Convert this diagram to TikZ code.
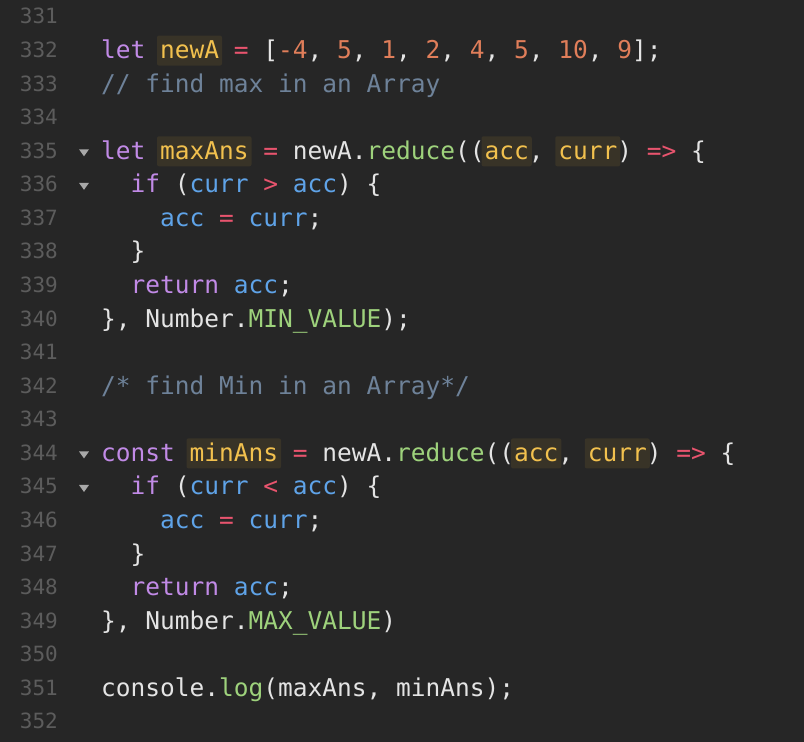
\documentclass[tikz,border=0pt]{standalone}
\usepackage{fontspec}
\setmonofont{DejaVu Sans Mono}
\definecolor{bg}{HTML}{262626}
\definecolor{kw}{HTML}{C18AE6}
\definecolor{yl}{HTML}{F2C14E}
\definecolor{rd}{HTML}{E8546E}
\definecolor{nm}{HTML}{E07E5A}
\definecolor{gr}{HTML}{9ED27C}
\definecolor{bl}{HTML}{5FA3E8}
\definecolor{tx}{HTML}{E4E4E4}
\definecolor{cm}{HTML}{6E8299}
\definecolor{ln}{HTML}{5C5C5C}
\definecolor{hlb}{HTML}{383327}
\definecolor{fold}{HTML}{A8A8A8}
\newcommand\K[1]{\textcolor{kw}{#1}}
\newcommand\Y[1]{\textcolor{yl}{#1}}
\newcommand\R[1]{\textcolor{rd}{#1}}
\newcommand\N[1]{\textcolor{nm}{#1}}
\newcommand\G[1]{\textcolor{gr}{#1}}
\newcommand\B[1]{\textcolor{bl}{#1}}
\newcommand\Cm[1]{\textcolor{cm}{#1}}
\begin{document}
\begin{tikzpicture}[x=1pt,y=1pt,
  code/.style={anchor=base west,inner sep=0pt,text=tx,font=\ttfamily\fontsize{24.5}{24.5}\selectfont},
  lnum/.style={anchor=base east,inner sep=0pt,text=ln,font=\ttfamily\fontsize{21}{21}\selectfont},
  hlbox/.style={fill=hlb,draw=none,rounded corners=2pt},
  foldmark/.style={fill=fold,draw=none}]
\fill[bg] (0,0) rectangle (804,742);
\useasboundingbox (0,0) rectangle (804,742);
\def\cw{14.75}
\newcommand\ly[1]{742-17-33.57*(#1-331)}
% highlights: \hlt{line}{startcol}{len}
\newcommand\hlt[3]{\fill[hlb,rounded corners=2pt] ({101+\cw*#2-3},{\ly{#1}-15}) rectangle ({101+\cw*(#2+#3)+3},{\ly{#1}+15});}
\hlt{332}{4}{4}
\hlt{335}{4}{6}\hlt{335}{26}{3}\hlt{335}{31}{4}
\hlt{344}{6}{6}\hlt{344}{28}{3}\hlt{344}{33}{4}
% line numbers
\foreach \n in {331,...,352} {\node[lnum] (l\n) at (58,{\ly{\n}-7}) {\n};}
% fold marks
\foreach \n in {335,336,344,345} {\fill[fold] (79,{\ly{\n}+2}) -- (89,{\ly{\n}+2}) -- (84,{\ly{\n}-5}) -- cycle;}
\newcommand\cl[3]{\node[code] (c#1) at ({101+\cw*#2},{\ly{#1}-8}) {#3};}
\cl{332}{0}{\K{let} \Y{newA} \R{=} [\N{-4}, \N{5}, \N{1}, \N{2}, \N{4}, \N{5}, \N{10}, \N{9}];}
\cl{333}{0}{\Cm{// find max in an Array}}
\cl{335}{0}{\K{let} \Y{maxAns} \R{=} newA.\G{reduce}((\Y{acc}, \Y{curr}) \R{=>} \{}
\cl{336}{2}{\K{if} (\B{curr} \R{>} \B{acc}) \{}
\cl{337}{4}{\B{acc} \R{=} \B{curr};}
\cl{338}{2}{\}}
\cl{339}{2}{\K{return} \B{acc};}
\cl{340}{0}{\}, Number.\G{MIN\_VALUE});}
\cl{342}{0}{\Cm{/* find Min in an Array*/}}
\cl{344}{0}{\K{const} \Y{minAns} \R{=} newA.\G{reduce}((\Y{acc}, \Y{curr}) \R{=>} \{}
\cl{345}{2}{\K{if} (\B{curr} \R{<} \B{acc}) \{}
\cl{346}{4}{\B{acc} \R{=} \B{curr};}
\cl{347}{2}{\}}
\cl{348}{2}{\K{return} \B{acc};}
\cl{349}{0}{\}, Number.\G{MAX\_VALUE})}
\cl{351}{0}{console.\G{log}(maxAns, minAns);}
\end{tikzpicture}
\end{document}
